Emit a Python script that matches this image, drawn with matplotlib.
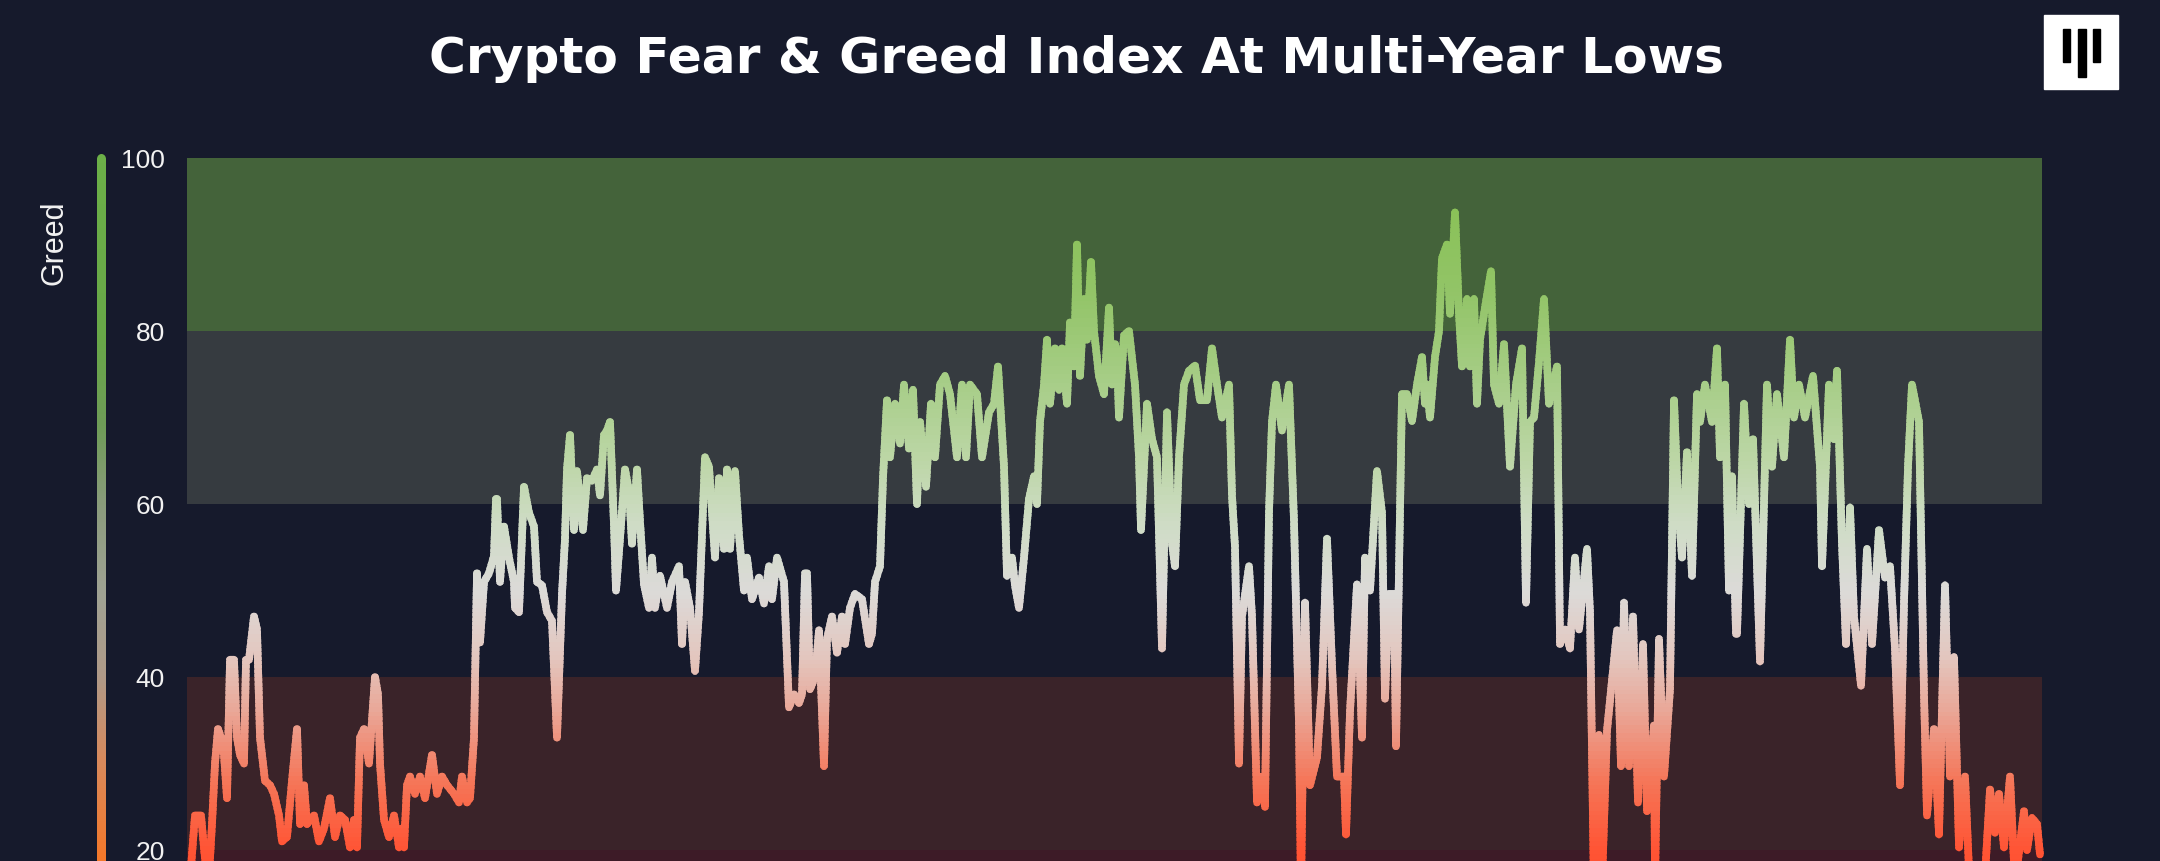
import numpy as np
import matplotlib
matplotlib.use("Agg")
import matplotlib.pyplot as plt
from matplotlib.colors import LinearSegmentedColormap, Normalize
from matplotlib.patches import Rectangle, Ellipse

# ---- data ----
t = [0, 4, 8, 14, 18, 22, 25, 28, 31, 34, 37, 40, 43, 47, 50, 53, 57, 59, 62, 67,
     70, 73, 78, 83, 87, 92, 95, 100, 105, 110, 113, 117, 120, 127, 132, 137, 143, 148, 153, 158,
     163, 167, 170, 173, 177, 182, 188, 191, 193, 197, 202, 207, 212, 215, 217, 220, 223, 228, 233, 238,
     245, 250, 255, 260, 267, 272, 275, 280, 283, 287, 290, 293, 297, 302, 307, 309,
     310, 313, 317, 322, 327, 328, 332, 337, 342, 347, 350, 355, 360, 365, 370, 375, 378, 380, 383, 387,
     390, 396, 400, 405, 410, 413, 417, 420, 423, 427, 429, 433, 438, 442, 445, 450, 453, 457, 462, 465,
     468, 473, 480, 485, 492, 495, 498, 503, 508, 512, 518, 522, 528, 532, 537, 540, 543, 548, 552, 557,
     560, 565, 572, 577, 582, 585, 590, 597, 602, 607, 612, 615, 618,
     620, 623, 628, 632, 637, 640, 645, 650, 655, 658, 663, 668, 675, 682, 685, 688, 693, 696, 700, 703,
     708, 713, 717, 722, 726, 730, 733, 739, 744, 748, 753, 758, 763, 770, 775, 779, 783, 790, 795, 802,
     807, 811, 817, 820, 825, 828, 832, 837, 842, 847, 850, 853, 857, 860, 863, 868, 872, 875, 880, 883,
     887, 890, 893, 897, 900, 904, 907, 912, 917, 922, 925, 928,
     930, 932, 937, 942, 948, 952, 954, 960, 965, 970, 975, 980, 985, 988, 992, 997, 1002, 1008, 1013, 1020,
     1025, 1030, 1035, 1042, 1045, 1048, 1052, 1055, 1062, 1065, 1070, 1075, 1078, 1082, 1085, 1089, 1095, 1102, 1107, 1112,
     1114, 1118, 1123, 1130, 1135, 1140, 1145, 1150, 1157, 1159, 1163, 1170, 1175, 1178, 1183, 1190, 1195, 1198, 1202, 1207,
     1209, 1215, 1220, 1225, 1230, 1235, 1238,
     1240, 1243, 1248, 1252, 1255, 1260, 1263, 1268, 1272, 1275, 1280, 1283, 1287, 1290, 1293, 1298, 1304, 1307, 1312, 1317,
     1323, 1329, 1335, 1339, 1343, 1347, 1352, 1357, 1362, 1370, 1373, 1378, 1383, 1388, 1392, 1400, 1403, 1407, 1412, 1415,
     1420, 1430, 1434, 1437, 1442, 1446, 1451, 1456, 1460, 1467, 1468, 1472, 1477, 1483, 1487, 1491, 1495, 1500, 1505, 1510,
     1513, 1518, 1525, 1530, 1533, 1538, 1542, 1545, 1549,
     1550, 1557, 1562, 1566, 1573, 1580, 1585, 1590, 1597, 1603, 1607, 1612, 1618, 1626, 1633, 1635, 1642, 1647, 1650, 1655,
     1659, 1663, 1667, 1674, 1680, 1685, 1692, 1698, 1703, 1708, 1713, 1717, 1721, 1725, 1732, 1737, 1740, 1747, 1752, 1758,
     1763, 1767, 1772, 1778, 1783, 1790, 1797, 1803, 1808, 1812, 1817, 1823, 1828, 1837, 1840, 1845, 1850, 1853]

fear_greed = [16, 18, 24, 24, 19, 17, 23, 30, 34, 33, 31, 26, 42, 42, 33, 31, 30, 42, 42, 47,
              45.5, 33, 28, 27.5, 26.5, 24, 21, 21.5, 28, 34, 23, 27.5, 23, 24, 21, 22.5, 26, 21.5, 24, 23.5,
              20.3, 23.5, 20.3, 33, 34, 30, 40, 38, 30, 23.5, 21.5, 24, 20.3, 22.5, 20.3, 27.5, 28.5, 26.5, 28.5, 26,
              31, 26.5, 28.5, 27.5, 26.5, 25.5, 28.5, 25.5, 26, 33, 52, 44, 51, 52, 54, 60.6,
              60.6, 51, 57.4, 53.8, 51, 48, 47.5, 62, 59, 57.4, 51, 50.6, 47.5, 46.5, 33, 49.6, 56, 64, 68, 57,
              63.8, 57, 63, 62.7, 64, 61, 68, 68.5, 69.5, 57.5, 50, 56, 64, 61.5, 55.4, 64, 58, 50.7, 48, 53.8,
              48, 51.7, 48, 51, 52.8, 43.8, 51, 48, 40.7, 47.5, 65.4, 64.3, 53.8, 63, 54.8, 64, 54.8, 63.8, 56.4, 50,
              53.8, 49, 51.5, 48.5, 52.8, 49, 53.8, 51, 36.5, 38, 37, 38, 52,
              52, 38.6, 40, 45.4, 29.7, 44.4, 47, 42.8, 47, 43.8, 48, 49.6, 49, 43.8, 45, 51, 52.8, 63, 72, 65.4,
              71.6, 67, 73.8, 66.4, 73.2, 60, 69.5, 62, 71.6, 65.4, 73.8, 74.8, 72.7, 65.4, 73.8, 65.4, 73.8, 72.7, 65.4, 70.6,
              71.6, 75.9, 64.3, 51.7, 53.8, 50.6, 48, 53.8, 60.6, 63.2, 60, 69.5, 73.8, 79, 71.6, 78, 73.2, 78, 71.6, 81,
              75.9, 90, 74.8, 83.7, 79, 88, 80, 74.8, 72.7, 82.7, 73.8, 78.5,
              77, 70, 79.5, 80, 73.8, 65.4, 57, 71.6, 67.5, 65.4, 43.3, 70.6, 55.4, 52.8, 65.4, 73.8, 75.4, 76, 72, 72,
              78, 73.8, 70, 73.8, 61, 55, 30, 47, 52.8, 47, 25.5, 28.5, 25, 59, 69.5, 73.8, 68.5, 73.8, 58, 34.4,
              15, 48.6, 27.5, 30.7, 39, 56, 41.3, 28.5, 28.5, 21.8, 36, 50.7, 33, 53.8, 50, 63.8, 59, 37.5, 49.6, 49.6,
              32, 72.7, 72.7, 69.6, 73.8, 77, 71.6,
              73.8, 70, 77, 80, 88.4, 90, 82, 93.7, 82, 75.9, 83.7, 75.9, 83.7, 71.6, 79, 82.7, 86.9, 73.8, 71.6, 78.5,
              64.3, 73.8, 78, 48.6, 69.5, 70, 76.4, 83.7, 71.6, 75.9, 43.8, 45.5, 43.3, 53.8, 45.5, 54.8, 47.5, 15, 33.3, 16,
              33.8, 45.4, 29.7, 48.6, 29.7, 47, 25.5, 43.8, 24.5, 34.4, 16, 44.4, 28.5, 38.6, 72, 60, 53.8, 66, 51.7, 72.7,
              69.5, 73.8, 69.5, 78, 65.4, 73.8, 50, 63.2, 45,
              45, 71.6, 60, 67.5, 41.8, 73.8, 64.3, 72.7, 65.4, 79, 70, 73.8, 70, 74.8, 64.3, 52.8, 73.8, 67.5, 75.4, 55.4,
              43.8, 59.6, 47, 39, 54.8, 43.8, 57, 51.5, 52.8, 43.3, 27.5, 48.6, 64.3, 73.8, 69.5, 38, 24, 34, 21.8, 50.6,
              28.5, 42.3, 20.3, 28.5, 15, 12, 15, 27, 22, 26.5, 20.3, 28.5, 16, 24.5, 20, 23.7, 23, 19.5]

zone_edges = [0, 20, 40, 60, 80, 100]
zone_colors = ["#3d1b27", "#3a2329", None, "#363b40", "#44633a"]
y_ticks = [20, 40, 60, 80, 100]
title = "Crypto Fear & Greed Index At Multi-Year Lows"

bg = "#161a2c"
W, H = 2160, 861

fig = plt.figure(figsize=(W / 100, H / 100), dpi=100, facecolor=bg)
ax = fig.add_axes([187 / W, 0, 1855 / W, 1 - 158 / H])
ax.set_facecolor(bg)

for lo, hi, c in zip(zone_edges[:-1], zone_edges[1:], zone_colors):
    if c:
        ax.axhspan(lo, hi, color=c, lw=0, zorder=0)

# line coloured by height: draw it once per thin horizontal strip
line_cmap = LinearSegmentedColormap.from_list("fg", [
    (0.00, "#ff4a2a"), (0.06, "#ff5535"), (0.15, "#f57658"), (0.235, "#eba190"),
    (0.32, "#e3c6be"), (0.41, "#dcdad8"), (0.50, "#cfdcc6"), (0.59, "#bcd6a6"),
    (0.70, "#a6cd86"), (0.82, "#92c467"), (1.00, "#85c04f")])
norm = Normalize(15, 100)
levels = np.arange(5, 101.5, 0.5)
for lo, hi in zip(levels[:-1], levels[1:]):
    ln, = ax.plot(t, fear_greed, color=line_cmap(norm((lo + hi) / 2)), lw=5.5,
                  solid_joinstyle="round", solid_capstyle="round", zorder=3)
    ln.set_clip_path(Rectangle((-100, lo), 2100, hi - lo + 0.35, transform=ax.transData))

ax.set_xlim(0, 1855)
ax.set_ylim(18.73, 100)
ax.set_xticks([])
ax.set_yticks(y_ticks)
ax.tick_params(axis="y", length=0, pad=16, labelsize=19, labelcolor="#f2f2f2")
for lab in ax.get_yticklabels():
    lab.set_family("Liberation Sans")
for s in ax.spines.values():
    s.set_visible(False)

# gradient bar on the left
bar_cmap = LinearSegmentedColormap.from_list("bar", [
    (0.0, "#f4782a"), (0.14, "#d98a5c"), (0.26, "#b09a88"), (0.38, "#a0a394"),
    (0.50, "#8c9c7e"), (0.62, "#6f9c58"), (0.75, "#68a848"), (1.0, "#6cb048")])
cax = fig.add_axes([97 / W, 0, 9 / W, 1 - 159 / H])
grad = np.linspace(18.73, 100, 300).reshape(-1, 1)
cax.imshow(grad, cmap=bar_cmap, norm=Normalize(18.73, 100), aspect="auto",
           origin="lower", extent=[0, 1, 18.73, 100])
cax.axis("off")
fig.add_artist(Ellipse((101.5 / W, 1 - 159 / H), 9 / W, 10 / H,
                       transform=fig.transFigure, color="#6cb048", lw=0))

fig.text(55 / W, 1 - 243 / H, "Greed", rotation=90, ha="center", va="center",
         fontsize=22, color="#f2f2f2", family="Liberation Sans")

fig.text(0.4986, 1 - 73 / H, title, ha="center", va="baseline", fontsize=36.2,
         fontweight="bold", color="white", family="DejaVu Sans")

# logo
fig.add_artist(Rectangle((2044 / W, 1 - 89 / H), 74 / W, 74 / H,
                         transform=fig.transFigure, color="white"))
for x0, w, h in [(2063, 7, 33), (2078, 8, 48), (2093, 7, 33)]:
    fig.add_artist(Rectangle((x0 / W, 1 - (29 + h) / H), w / W, h / H,
                             transform=fig.transFigure, color="black"))

fig.savefig("out.png", dpi=100, facecolor=bg)
